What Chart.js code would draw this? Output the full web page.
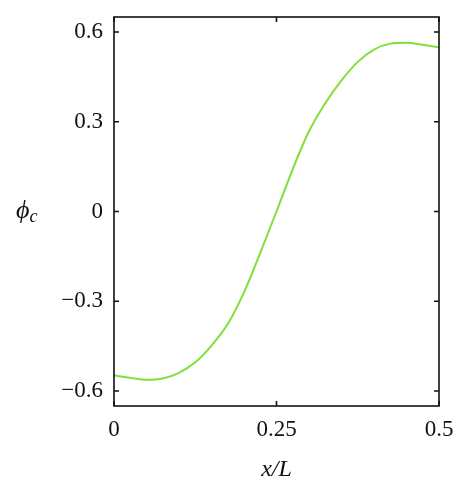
<!DOCTYPE html>
<html lang="en">
<head>
    <meta charset="UTF-8">
    <title>phi_c vs x/L</title>
    <style>
        body {
            margin: 0;
            background: #fff;
        }
        .wrap {
            position: relative;
            width: 474px;
            height: 503px;
        }
        .ylabel {
            position: absolute;
            left: 16px;
            top: 195px;
            font-family: "Liberation Serif", serif;
            font-style: italic;
            font-size: 26px;
            color: #111;
        }
        .ylabel sub {
            font-size: 18px;
            vertical-align: -4px;
        }
    </style>
    <script src="https://cdn.jsdelivr.net/npm/chart.js"></script>
</head>
<body>
    <div class="wrap">
        <canvas id="phiChart" width="474" height="503"></canvas>
        <div class="ylabel">&#x3D5;<sub>c</sub></div>
    </div>

    <script>
        // data
        const xPos = [0, 0.025, 0.05, 0.075, 0.1, 0.125, 0.15, 0.175, 0.2, 0.225, 0.25,
                      0.275, 0.3, 0.325, 0.35, 0.375, 0.4, 0.425, 0.45, 0.475, 0.5];
        const phiC = [-0.548, -0.556, -0.562, -0.558, -0.539, -0.504, -0.448, -0.376, -0.270, -0.138, 0.0,
                      0.142, 0.268, 0.362, 0.438, 0.500, 0.541, 0.561, 0.564, 0.557, 0.549];
        const xTicks = [0, 0.25, 0.5];
        const xTickLabels = ['0', '0.25', '0.5'];
        const yTicks = [-0.6, -0.3, 0, 0.3, 0.6];
        const yTickLabels = ['\u22120.6', '\u22120.3', '0', '0.3', '0.6'];

        const points = xPos.map((x, i) => ({ x: x, y: phiC[i] }));

        // frame + inward ticks on all four sides
        const framePlugin = {
            id: 'frame',
            afterDraw(chart) {
                const ctx = chart.ctx;
                const a = chart.chartArea;
                const xs = chart.scales.x, ys = chart.scales.y;
                const len = 5;
                ctx.save();
                ctx.strokeStyle = '#111';
                ctx.lineWidth = 1.6;
                ctx.strokeRect(a.left, a.top, a.right - a.left, a.bottom - a.top);
                ctx.beginPath();
                xTicks.forEach(v => {
                    const px = xs.getPixelForValue(v);
                    ctx.moveTo(px, a.bottom); ctx.lineTo(px, a.bottom - len);
                    ctx.moveTo(px, a.top); ctx.lineTo(px, a.top + len);
                });
                yTicks.forEach(v => {
                    const py = ys.getPixelForValue(v);
                    ctx.moveTo(a.left, py); ctx.lineTo(a.left + len, py);
                    ctx.moveTo(a.right, py); ctx.lineTo(a.right - len, py);
                });
                ctx.stroke();
                ctx.restore();
            }
        };

        const serif = '"Liberation Serif", "Times New Roman", serif';

        new Chart(document.getElementById('phiChart'), {
            type: 'line',
            data: {
                datasets: [{
                    data: points,
                    borderColor: '#7fe03c',
                    borderWidth: 2,
                    pointRadius: 0,
                    fill: false,
                    cubicInterpolationMode: 'monotone'
                }]
            },
            options: {
                responsive: false,
                animation: false,
                events: [],
                layout: {
                    padding: { top: 17, right: 35, left: 0, bottom: 0 }
                },
                plugins: {
                    legend: { display: false },
                    tooltip: { enabled: false }
                },
                scales: {
                    x: {
                        type: 'linear',
                        min: 0,
                        max: 0.5,
                        grid: { display: false, drawTicks: false },
                        border: { display: false },
                        afterBuildTicks: scale => {
                            scale.ticks = xTicks.map(v => ({ value: v }));
                        },
                        afterFit: scale => {
                            scale.height = 97;
                            scale.paddingLeft = 0;
                            scale.paddingRight = 0;
                        },
                        ticks: {
                            padding: 10,
                            color: '#111',
                            maxRotation: 0,
                            font: { family: serif, size: 23 },
                            callback: (v) => xTickLabels[xTicks.indexOf(v)]
                        },
                        title: {
                            display: true,
                            text: 'x/L',
                            color: '#111',
                            padding: { top: 8, bottom: 19 },
                            font: { family: serif, size: 24, style: 'italic' }
                        }
                    },
                    y: {
                        type: 'linear',
                        min: -0.65,
                        max: 0.65,
                        grid: { display: false, drawTicks: false },
                        border: { display: false },
                        afterBuildTicks: scale => {
                            scale.ticks = yTicks.map(v => ({ value: v }));
                        },
                        afterFit: scale => {
                            scale.width = 114;
                            scale.paddingTop = 0;
                            scale.paddingBottom = 0;
                        },
                        ticks: {
                            padding: 11,
                            color: '#111',
                            font: { family: serif, size: 23 },
                            callback: (v) => yTickLabels[yTicks.indexOf(v)]
                        }
                    }
                }
            },
            plugins: [framePlugin]
        });
    </script>
</body>
</html>
